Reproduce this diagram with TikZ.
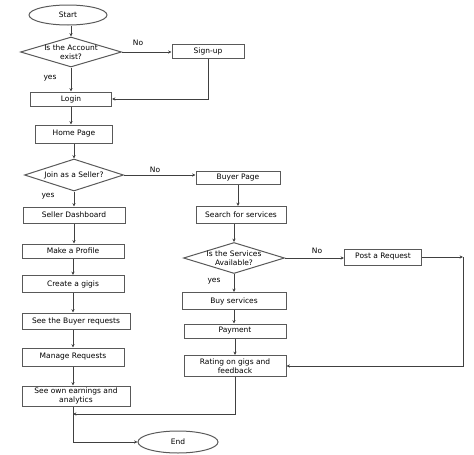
\documentclass[tikz,border=0pt]{standalone}
\usepackage{fontspec}
\setmainfont{DejaVu Sans}
\usetikzlibrary{shapes.geometric,arrows.meta}
\begin{document}
\begin{tikzpicture}[x=1pt,y=-1pt,
  every node/.style={font=\fontsize{7.5}{8.6}\selectfont},
  box/.style={draw=black!65,line width=1pt,rectangle,inner sep=0pt,align=center},
  oval/.style={draw=black!65,line width=1pt,ellipse,inner sep=0pt},
  dia/.style={draw=black!65,line width=1pt,diamond,inner sep=0pt},
  dtext/.style={label={[align=center,font=\fontsize{7.5}{8.6}\selectfont]center:#1}},
  con/.style={draw=black!75,line width=0.9pt,-{Stealth[length=3.4pt,width=3.2pt]}},
  lbl/.style={font=\fontsize{7.5}{8.6}\selectfont}]
\useasboundingbox (0,0) rectangle (474,455);
% left column
\node[oval,minimum width=78pt,minimum height=20pt] (start) at (68,15) {Start};
\node[dia,minimum width=101pt,minimum height=30pt,dtext={Is the Account\\exist?}] (acc) at (71,52) {};
\node[box,minimum width=72pt,minimum height=14pt] (signup) at (208,51) {Sign-up};
\node[box,minimum width=81pt,minimum height=14pt] (login) at (71,99) {Login};
\node[box,minimum width=77pt,minimum height=18pt] (home) at (74,134) {Home Page};
\node[dia,minimum width=99pt,minimum height=32pt,dtext={Join as a Seller?}] (join) at (74,175) {};
\node[box,minimum width=102pt,minimum height=16pt] (seller) at (74,215) {Seller Dashboard};
\node[box,minimum width=102pt,minimum height=14pt] (profile) at (73,251) {Make a Profile};
\node[box,minimum width=102pt,minimum height=17pt] (gig) at (73,284) {Create a gigis};
\node[box,minimum width=108pt,minimum height=16pt] (buyreq) at (76,321) {See the Buyer requests};
\node[box,minimum width=102pt,minimum height=18pt] (manage) at (73,357) {Manage Requests};
\node[box,minimum width=108pt,minimum height=20pt] (earn) at (76,396) {See own earnings and\\analytics};
\node[oval,minimum width=80pt,minimum height=22pt] (end) at (178,442) {End};
% right column
\node[box,minimum width=84pt,minimum height=13pt] (buyer) at (238,178) {Buyer Page};
\node[box,minimum width=90pt,minimum height=17pt] (search) at (241,215) {Search for services};
\node[dia,minimum width=101pt,minimum height=31pt,dtext={Is the Services\\Available?}] (avail) at (234,258) {};
\node[box,minimum width=77pt,minimum height=16pt] (post) at (383,257) {Post a Request};
\node[box,minimum width=104pt,minimum height=17pt] (buy) at (234,301) {Buy services};
\node[box,minimum width=102pt,minimum height=14pt] (pay) at (235,331) {Payment};
\node[box,minimum width=102pt,minimum height=21pt] (rating) at (235,366) {Rating on gigs and\\feedback};
\coordinate (cpost) at (463,257);
\coordinate (jn) at (73,414);
% labels
\node[lbl] (lno1) at (138,43) {No};
\node[lbl] (lyes1) at (50,78) {yes};
\node[lbl] (lno2) at (155,170) {No};
\node[lbl] (lyes2) at (48,196) {yes};
\node[lbl] (lno3) at (317,251) {No};
\node[lbl] (lyes3) at (214,281) {yes};
% connectors
\draw[con] (start.south -| acc.north) -- (acc.north);
\draw[con] (acc.south) -- (acc.south |- login.north);
\draw[con] (acc.east) -- (acc.east -| signup.west);
\draw[con] (signup.south) |- (login.east);
\draw[con] (login.south) -- (login.south |- home.north);
\draw[con] (home.south) -- (home.south |- join.north);
\draw[con] (join.east) -- (join.east -| buyer.west);
\draw[con] (join.south) -- (join.south |- seller.north);
\draw[con] (seller.south) -- (seller.south |- profile.north);
\draw[con] (profile.south) -- (profile.south |- gig.north);
\draw[con] (gig.south) -- (gig.south |- buyreq.north);
\draw[con] (buyreq.south -| manage.south) -- (manage.north);
\draw[con] (manage.south) -- (manage.south |- earn.north);
\draw[con] (earn.south -| jn) |- (end.west);
\draw[con] (buyer.south) -- (buyer.south |- search.north);
\draw[con] (search.south -| avail.north) -- (avail.north);
\draw[con] (avail.east) -- (avail.east -| post.west);
\draw[con] (post.east) -- (cpost);
\draw[con] (cpost) |- (rating.east);
\draw[con] (avail.south) -- (avail.south |- buy.north);
\draw[con] (buy.south) -- (buy.south |- pay.north);
\draw[con] (pay.south) -- (pay.south |- rating.north);
\draw[con] (rating.south) |- (jn);
\end{tikzpicture}
\end{document}
